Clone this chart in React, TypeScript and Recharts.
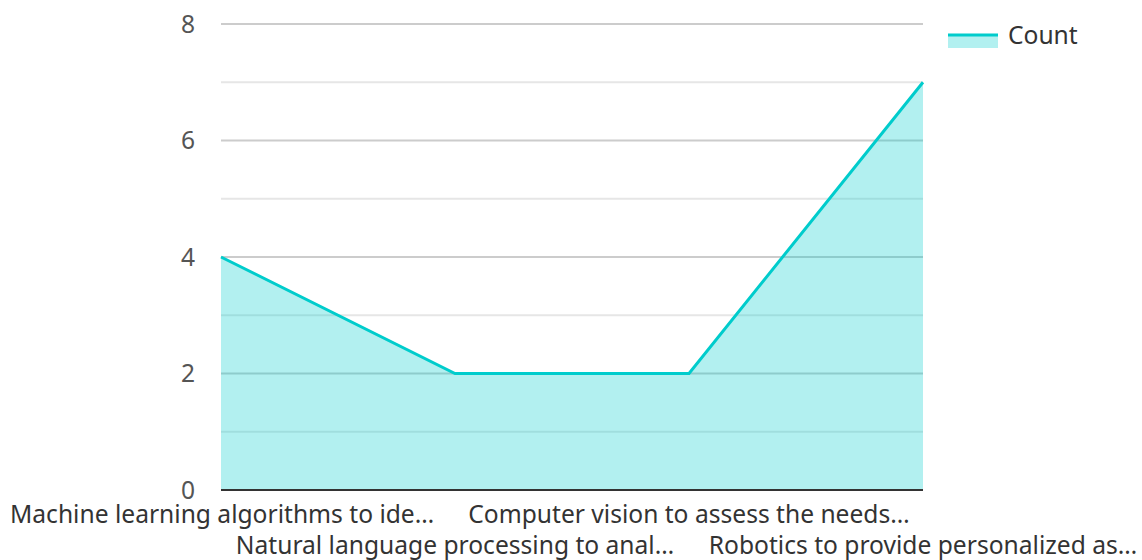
import { AreaChart, Area, XAxis, YAxis, CartesianGrid } from 'recharts';

const categories = [
  'Machine learning algorithms to ide…',
  'Natural language processing to anal…',
  'Computer vision to assess the needs…',
  'Robotics to provide personalized as…',
];
const counts = [4, 2, 2, 7];
// every integer gets a grid line; only the even ones get a label
const gridTicks = [0, 1, 2, 3, 4, 5, 6, 7, 8];

const data = categories.map((name, i) => ({ name, count: counts[i] }));

const FONT = '"Noto Sans", "Open Sans", sans-serif';
const TEAL = '#00cccc';
const FS = 24.6;

// alternate rows so the long labels don't collide
const XTick = (props: any) => {
  const { x, y, payload, index } = props;
  const dy = index % 2 === 1 ? 56 : 25;
  const first = index === 0;
  return (
    <text
      x={first ? 10 : x}
      y={y}
      dy={dy}
      textAnchor={first ? 'start' : 'middle'}
      fill="#333"
      fontSize={FS}
      fontFamily={FONT}
    >
      {payload.value}
    </text>
  );
};

const gridLine = (p: any) => (
  <line
    key={p.key ?? `g-${p.index}`}
    x1={p.x1}
    y1={p.y1}
    x2={p.x2}
    y2={p.y2}
    stroke={p.index % 2 === 0 ? '#cccccc' : '#e6e6e6'}
    strokeWidth={2}
  />
);

export default function App() {
  return (
    <div style={{ position: 'absolute', left: 0, top: 0, width: 1142, height: 560 }}>
      <AreaChart
        width={1142}
        height={560}
        data={data}
        margin={{ top: 24, right: 219, left: 0, bottom: 0 }}
      >
        <CartesianGrid vertical={false} horizontal={gridLine} />
        <XAxis
          dataKey="name"
          interval={0}
          tickLine={false}
          axisLine={{ stroke: '#333', strokeWidth: 2 }}
          tick={<XTick />}
          height={70}
        />
        <YAxis
          domain={[0, 8]}
          ticks={gridTicks}
          interval={0}
          width={221}
          tickLine={false}
          axisLine={false}
          tickMargin={20}
          tickFormatter={(v: number) => (v % 2 === 0 ? String(v) : '')}
          tick={{ fill: '#555', fontSize: FS, fontFamily: FONT }}
        />
        <Area
          type="linear"
          dataKey="count"
          stroke={TEAL}
          strokeWidth={3}
          fill={TEAL}
          fillOpacity={0.3}
          dot={false}
          activeDot={false}
          isAnimationActive={false}
        />
      </AreaChart>
      {/* legend */}
      <svg width={50} height={15} style={{ position: 'absolute', left: 948, top: 33 }}>
        <rect x={0} y={2} width={50} height={13} fill={TEAL} fillOpacity={0.3} />
        <line x1={0} y1={2} x2={50} y2={2} stroke={TEAL} strokeWidth={3} />
      </svg>
      <span
        style={{
          position: 'absolute',
          left: 1008,
          top: 18,
          fontFamily: FONT,
          fontSize: FS,
          color: '#333',
          lineHeight: '34px',
        }}
      >
        Count
      </span>
    </div>
  );
}
